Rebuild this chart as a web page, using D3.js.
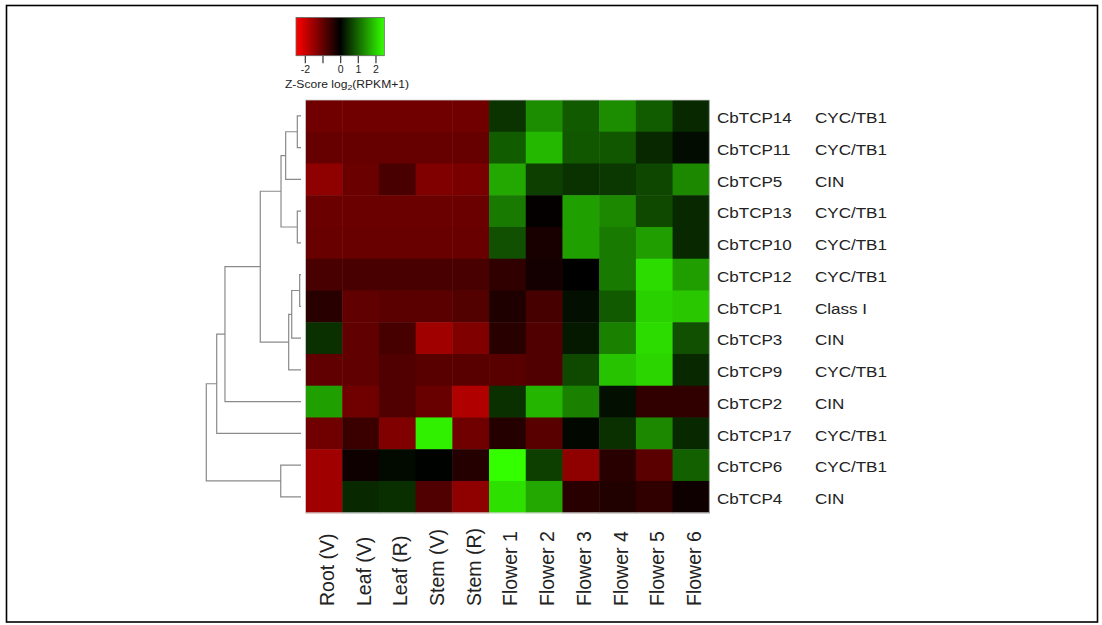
<!DOCTYPE html>
<html>
<head>
<meta charset="utf-8">
<script src="https://cdn.jsdelivr.net/npm/d3@7/dist/d3.min.js"></script>
<style>
  html, body { margin: 0; padding: 0; background: #ffffff; }
  svg { display: block; font-family: "Liberation Sans", Arial, sans-serif; }
</style>
</head>
<body>
<svg id="chart" width="1102" height="625"></svg>
<script>
// ---------------- data ----------------
const columns = ["Root (V)", "Leaf (V)", "Leaf (R)", "Stem (V)", "Stem (R)",
                 "Flower 1", "Flower 2", "Flower 3", "Flower 4", "Flower 5", "Flower 6"];
const genes = ["CbTCP14", "CbTCP11", "CbTCP5", "CbTCP13", "CbTCP10", "CbTCP12", "CbTCP1",
               "CbTCP3", "CbTCP9", "CbTCP2", "CbTCP17", "CbTCP6", "CbTCP4"];
const classes = ["CYC/TB1", "CYC/TB1", "CIN", "CYC/TB1", "CYC/TB1", "CYC/TB1", "Class I",
                 "CIN", "CYC/TB1", "CIN", "CYC/TB1", "CYC/TB1", "CIN"];

// Z-scores per gene (columns in the order above)
const zCbTCP14 = [-1.10, -1.10, -1.10, -1.10, -1.10, 0.50, 1.37, 0.88, 1.37, 0.90, 0.40];
const zCbTCP11 = [-1.00, -1.00, -1.00, -1.00, -1.00, 0.90, 1.80, 0.85, 0.85, 0.40, 0.12];
const zCbTCP5  = [-1.40, -1.05, -0.72, -1.25, -1.20, 1.65, 0.62, 0.48, 0.55, 0.70, 1.33];
const zCbTCP13 = [-1.05, -1.05, -1.05, -1.05, -1.05, 1.20, -0.05, 1.57, 1.33, 0.72, 0.40];
const zCbTCP10 = [-1.02, -1.02, -1.02, -1.02, -1.02, 0.78, -0.24, 1.57, 1.20, 1.55, 0.40];
const zCbTCP12 = [-0.72, -0.72, -0.72, -0.72, -0.72, -0.47, -0.20, 0.00, 1.20, 2.15, 1.55];
const zCbTCP1  = [-0.40, -0.95, -0.88, -0.88, -0.80, -0.30, -0.70, 0.15, 0.88, 2.05, 1.95];
const zCbTCP3  = [0.47, -0.95, -0.70, -1.57, -1.25, -0.40, -0.78, 0.24, 1.25, 2.15, 0.78];
const zCbTCP9  = [-0.95, -0.95, -0.78, -0.86, -0.86, -0.86, -0.78, 0.72, 1.90, 2.10, 0.40];
const zCbTCP2  = [1.57, -1.10, -0.78, -1.02, -1.73, 0.47, 1.77, 1.25, 0.15, -0.47, -0.47];
const zCbTCP17 = [-1.10, -0.57, -1.25, 2.35, -1.10, -0.36, -0.86, 0.08, 0.47, 1.33, 0.40];
const zCbTCP6  = [-1.57, -0.15, 0.10, 0.02, -0.36, 2.50, 0.62, -1.40, -0.40, -0.88, 0.94];
const zCbTCP4  = [-1.57, 0.40, 0.45, -0.78, -1.40, 2.20, 1.65, -0.40, -0.32, -0.47, -0.15];
const zRows = [zCbTCP14, zCbTCP11, zCbTCP5, zCbTCP13, zCbTCP10, zCbTCP12, zCbTCP1,
               zCbTCP3, zCbTCP9, zCbTCP2, zCbTCP17, zCbTCP6, zCbTCP4];

// Row dendrogram (hclust style: negative = leaf number in display order, positive = earlier merge)
const mergeLeft   = [-1, -4, -6, -12, 1, 3, 6, 5, 8, 9, 10, 11];
const mergeRight  = [-2, -5, -7, -13, -3, -8, -9, 2, 7, -10, -11, 4];
const mergeHeight = [0.39, 0.39, 0.14, 2.14, 1.62, 0.98, 1.30, 2.11, 4.30, 8.03, 8.90, 10.0];

// Color key
const keyDomain = [-2.5, 2.5];
const keyTicks = [-2, -1, 0, 1, 2];
const keyTickLabels = ["-2", "", "0", "1", "2"];

// ---------------- drawing ----------------
const svg = d3.select("#chart");

svg.append("rect").attr("x", 0).attr("y", 0).attr("width", 1102).attr("height", 625).attr("fill", "#fff");
// outer frame
svg.append("rect")
  .attr("x", 6.5).attr("y", 5.5).attr("width", 1091).attr("height", 616.5)
  .attr("fill", "none").attr("stroke", "#000").attr("stroke-width", 1.6);

const color = d3.scaleLinear()
  .domain([-2.5, 0, 2.5])
  .range(["#ff0000", "#000000", "#33ff00"])
  .clamp(true);

const x = d3.scaleBand().domain(columns).range([305.5, 709.3]).padding(0);
const y = d3.scaleBand().domain(genes).range([100, 512.7]).padding(0);

// cells
const cells = [];
zRows.forEach((row, i) => row.forEach((v, j) => cells.push({ gene: genes[i], col: columns[j], v })));
svg.append("g").selectAll("rect").data(cells).join("rect")
  .attr("x", d => x(d.col))
  .attr("y", d => y(d.gene))
  .attr("width", x.bandwidth() + 0.5)
  .attr("height", y.bandwidth() + 0.5)
  .attr("fill", d => color(d.v));

svg.append("rect")
  .attr("x", 305.5).attr("y", 100).attr("width", 709.3 - 305.5).attr("height", 412.7)
  .attr("fill", "none").attr("stroke", "#cfcfcf").attr("stroke-width", 0.8);

// row labels
const rowLab = svg.append("g").attr("fill", "#222").style("font-size", "15.5px");
genes.forEach((g, i) => {
  const cy = y(g) + y.bandwidth() / 2 + 7.2;
  rowLab.append("text").attr("transform", `translate(717,${cy}) scale(1.1,1)`).text(g);
  rowLab.append("text").attr("transform", `translate(815,${cy}) scale(1.1,1)`).text(classes[i]);
});

// column labels
svg.append("g").attr("fill", "#222").style("font-size", "19.5px")
  .selectAll("text").data(columns).join("text")
  .attr("transform", d => `translate(${x(d) + x.bandwidth() / 2 + 10},606) rotate(-90)`)
  .attr("text-anchor", "start")
  .text(d => d);

// dendrogram
const dx = d3.scaleLinear().domain([0, 10]).range([301, 206.3]);
const nodes = [];
function nodePos(id) {
  if (id < 0) {
    const g = genes[-id - 1];
    return { x: dx(0), y: y(g) + y.bandwidth() / 2 };
  }
  return nodes[id - 1];
}
let dPath = "";
mergeLeft.forEach((a, k) => {
  const pa = nodePos(a), pb = nodePos(mergeRight[k]);
  const hx = dx(mergeHeight[k]);
  dPath += `M${pa.x},${pa.y}H${hx}V${pb.y}H${pb.x}`;
  nodes.push({ x: hx, y: (pa.y + pb.y) / 2 });
});
svg.append("path").attr("d", dPath)
  .attr("fill", "none").attr("stroke", "#8a8a8a").attr("stroke-width", 1.2);

// color key
const kx = d3.scaleLinear().domain(keyDomain).range([296, 384.3]);
const defs = svg.append("defs");
const grad = defs.append("linearGradient").attr("id", "keyGrad")
  .attr("x1", "0%").attr("x2", "100%").attr("y1", "0%").attr("y2", "0%");
d3.range(0, 1.0001, 0.05).forEach(t => {
  const v = keyDomain[0] + t * (keyDomain[1] - keyDomain[0]);
  grad.append("stop").attr("offset", (t * 100) + "%").attr("stop-color", color(v));
});
svg.append("rect")
  .attr("x", kx(keyDomain[0])).attr("y", 17.5)
  .attr("width", kx(keyDomain[1]) - kx(keyDomain[0])).attr("height", 38.2)
  .attr("fill", "url(#keyGrad)").attr("stroke", "#666").attr("stroke-width", 0.8);

const keyAxis = d3.axisBottom(kx).tickValues(keyTicks)
  .tickFormat((d, i) => keyTickLabels[i]).tickSize(7.5).tickPadding(2);
const ka = svg.append("g").attr("transform", "translate(0,55.7)").call(keyAxis);
ka.select(".domain").remove();
ka.selectAll(".tick line").attr("stroke", "#444").attr("stroke-width", 1.3);
ka.selectAll(".tick text").attr("fill", "#222").style("font-size", "10.5px")
  .style("font-family", "'Liberation Sans', Arial, sans-serif");

const title = svg.append("text")
  .attr("transform", "translate(347,87.5) scale(1.1,1)")
  .attr("text-anchor", "middle").attr("fill", "#222").style("font-size", "11px");
title.append("tspan").text("Z-Score log");
title.append("tspan").attr("dy", 2.5).style("font-size", "8px").text("2");
title.append("tspan").attr("dy", -2.5).text("(RPKM+1)");
</script>
</body>
</html>
